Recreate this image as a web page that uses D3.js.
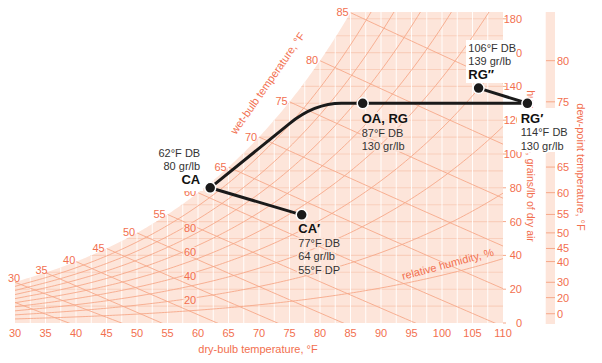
<!DOCTYPE html>
<html><head><meta charset="utf-8">
<script src="https://cdn.jsdelivr.net/npm/d3@7"></script>
<style>
body{margin:0;background:#fff}
svg{display:block}
text{font-family:"Liberation Sans",Arial,Helvetica,sans-serif}
</style>
</head><body>
<svg id="chart" width="602" height="363"></svg>
<script>
// ---------- data ----------
const dryBulbTicks = [30,35,40,45,50,55,60,65,70,75,80,85,90,95,100,105,110];
const humidityTicks = [0,20,40,60,80,100,120,140,160,180];
const dewPointTicks = [0,20,30,40,45,50,55,60,65,70,75,80];
const dewPointLabels = [0,20,30,40,45,50,55,60,65,75,80];
const wetBulbLines = [25,30,35,40,45,50,55,60,65,70,75,80,85];
const wetBulbLabels = [30,35,40,45,50,55,60,65,70,75,80,85];
const rhCurves = [10,20,30,40,50,60,70,80,90];
const rhLabels = [20,40,60,80];
const stateNames = ["CA","CA\u2032","OA, RG","RG\u2033","RG\u2032"];
const stateDryBulb = [62,77,87,106,114];
const stateGrains = [80,64,130,139,130];
const stateDetails = [
  ["62°F DB","80 gr/lb"],
  ["77°F DB","64 gr/lb","55°F DP"],
  ["87°F DB","130 gr/lb"],
  ["106°F DB","139 gr/lb"],
  ["114°F DB","130 gr/lb"]
];
// coil path CA -> bend -> OA -> RG' (dry-bulb °F, grains/lb)
const coilPathDB = [62,75,79.1,83.5,114];
const coilPathGr = [80,118,130,130,130];
const reheatLink = [3,4];   // RG'' -> RG'
const coolLink = [0,1];     // CA -> CA'

// ---------- psychrometrics ----------
const P = 1013.25;
function es(tF){const c=(tF-32)/1.8;return c>=0?6.112*Math.exp(17.62*c/(243.12+c)):6.112*Math.exp(22.46*c/(272.62+c));}
function wRH(tF,rh){const e=rh*es(tF);return 0.622*e/(P-e)*7000;}
function wSat(tF){return wRH(tF,1);}
function wWB(tF,twb){const ws=wSat(twb)/7000;let w;
  if(twb>=32) w=((1093-0.556*twb)*ws-0.240*(tF-twb))/(1093+0.444*tF-twb);
  else w=((1220-0.04*twb)*ws-0.240*(tF-twb))/(1220+0.444*tF-0.48*twb);
  return w*7000;}

// ---------- scales ----------
const x = d3.scaleLinear().domain([30,110]).range([15,503]);
const y = d3.scaleLinear().domain([0,180]).range([323,18.8]);
const W_TOP = 184;

const ORANGE = "#f26f4f", PINK = "#fde5da", HLINE = "#f9cfbc", DIAG = "#f6a889", DARK="#333";
const svg = d3.select("#chart");

// chart region polygon
const region = [];
for(let t=30;t<=90;t+=0.25){const w=wSat(t); if(w>W_TOP){break;} region.push([x(t),y(w)]);}
let tTop=84; for(let t=80;t<=90;t+=0.01){if(wSat(t)>=W_TOP){tTop=t;break;}}
region.push([x(tTop),y(W_TOP)],[x(110),y(W_TOP)],[x(110),y(0)],[x(30),y(0)]);

const defs = svg.append("defs");
defs.append("clipPath").attr("id","clip").append("path").attr("d","M"+region.join("L")+"Z");

svg.append("path").attr("d","M"+region.join("L")+"Z").attr("fill",PINK);

const g = svg.append("g").attr("clip-path","url(#clip)");
g.selectAll(".h").data(d3.range(10,190,10)).join("line")
  .attr("x1",x(30)).attr("x2",x(110)).attr("y1",d=>y(d)).attr("y2",d=>y(d))
  .attr("stroke",HLINE).attr("stroke-width",1.1);
g.selectAll(".v").data(d3.range(32.5,110,2.5)).join("line")
  .attr("x1",d=>x(d)).attr("x2",d=>x(d)).attr("y1",y(0)).attr("y2",y(W_TOP))
  .attr("stroke","#fff").attr("stroke-width",0.9);

const line = d3.line().x(d=>x(d[0])).y(d=>y(d[1]));
g.selectAll(".rh").data(rhCurves).join("path")
  .attr("d",rh=>line(d3.range(30,110.01,0.5).map(t=>[t,wRH(t,rh/100)])))
  .attr("fill","none").attr("stroke",DIAG).attr("stroke-width",0.9);
g.selectAll(".wb").data(wetBulbLines).join("path")
  .attr("d",wb=>{const pts=[];for(let t=Math.max(wb,30);t<=112;t+=1){const w=wWB(t,wb);pts.push([t,w]);if(w<-5)break;}return line(pts);})
  .attr("fill","none").attr("stroke",DIAG).attr("stroke-width",0.9);

svg.selectAll(".rhl").data(rhLabels).join("text")
  .attr("x",x(58.7)).attr("y",d=>y(wRH(57.5,d/100))+4)
  .attr("text-anchor","middle").attr("font-size",11).attr("fill",ORANGE)
  .attr("stroke",PINK).attr("stroke-width",3).attr("paint-order","stroke")
  .text(d=>d);

svg.selectAll(".xl").data(dryBulbTicks).join("text")
  .attr("x",d=>x(d)).attr("y",337).attr("text-anchor","middle")
  .attr("font-size",11).attr("fill",ORANGE).text(d=>d);
svg.append("text").attr("x",258).attr("y",353).attr("text-anchor","middle")
  .attr("font-size",11).attr("fill",ORANGE).text("dry-bulb temperature, °F");

svg.selectAll(".yt").data(humidityTicks).join("line")
  .attr("x1",x(110)).attr("x2",x(110)+3).attr("y1",d=>y(d)).attr("y2",d=>y(d))
  .attr("stroke",DIAG);
svg.selectAll(".yl").data(humidityTicks).join("text")
  .attr("x",522).attr("y",d=>y(d)+4).attr("text-anchor","end")
  .attr("font-size",11).attr("fill",ORANGE).text(d=>d);
svg.append("text").attr("transform","translate(527,166) rotate(90)").attr("text-anchor","middle")
  .attr("font-size",10.5).attr("fill",ORANGE).text("humidity ratio, grains/lb of dry air");

svg.append("rect").attr("x",545.7).attr("y",y(W_TOP)).attr("width",9.3).attr("height",y(0)-y(W_TOP)+1).attr("fill",PINK);
svg.selectAll(".dt").data(dewPointTicks).join("line")
  .attr("x1",546).attr("x2",555).attr("y1",d=>y(wSat(d))).attr("y2",d=>y(wSat(d)))
  .attr("stroke",DIAG);
svg.selectAll(".dl").data(dewPointLabels).join("text")
  .attr("x",557).attr("y",d=>y(wSat(d))+4)
  .attr("font-size",11).attr("fill",ORANGE).text(d=>d);
svg.append("text").attr("transform","translate(577,167) rotate(90)").attr("text-anchor","middle")
  .attr("font-size",11).attr("fill",ORANGE).text("dew-point temperature, °F");

svg.selectAll(".wbl").data(wetBulbLabels).join("text")
  .attr("x",d=>{const f=Math.max(0,(42-d)/12);return x(d)-8+7*f;})
  .attr("y",d=>{const f=Math.max(0,(42-d)/12);return y(wSat(d))-0.5-4*f+4;})
  .attr("text-anchor","middle").attr("font-size",11).attr("fill",ORANGE).text(d=>d);
svg.append("text").attr("transform","translate(236,135) rotate(-55)")
  .attr("font-size",11).attr("fill",ORANGE).text("wet-bulb temperature, °F");
svg.append("text").attr("transform","translate(403,280) rotate(-15)")
  .attr("font-size",11).attr("fill",ORANGE).text("relative humidity, %");

// white label boxes
svg.append("rect").attr("x",158).attr("y",143).attr("width",45).attr("height",48).attr("fill","#fff");
svg.append("rect").attr("x",466).attr("y",40).attr("width",50).attr("height",43).attr("fill","#fff");
svg.append("rect").attr("x",517).attr("y",108).attr("width",54).attr("height",44).attr("fill","#fff");

const pth = d3.path();
pth.moveTo(x(coilPathDB[0]),y(coilPathGr[0]));
pth.lineTo(x(coilPathDB[1]),y(coilPathGr[1]));
pth.quadraticCurveTo(x(coilPathDB[2]),y(coilPathGr[2]),x(coilPathDB[3]),y(coilPathGr[3]));
pth.lineTo(x(coilPathDB[4]),y(coilPathGr[4]));
svg.append("path").attr("d",pth.toString()).attr("fill","none").attr("stroke","#1a1a1a")
  .attr("stroke-width",3).attr("stroke-linejoin","round");
[coolLink,reheatLink].forEach(([a,b])=>{
  svg.append("line").attr("x1",x(stateDryBulb[a])).attr("y1",y(stateGrains[a]))
    .attr("x2",x(stateDryBulb[b])).attr("y2",y(stateGrains[b]))
    .attr("stroke","#1a1a1a").attr("stroke-width",3);
});
svg.selectAll(".pt").data(stateNames).join("circle")
  .attr("cx",(d,i)=>x(stateDryBulb[i])).attr("cy",(d,i)=>y(stateGrains[i])).attr("r",5.5)
  .attr("fill","#1a1a1a").attr("stroke","#fff").attr("stroke-width",1.5);

const layout = [
  {dx:-10, dy:-3.8, anchor:"end", above:true, halo:"#fff"},
  {dx:-3.4, dy:18.2, anchor:"start", above:false, halo:PINK},
  {dx:-1, dy:19.7, anchor:"start", above:false, halo:PINK},
  {dx:-10.3, dy:-9, anchor:"start", above:true, halo:"#fff"},
  {dx:-6.7, dy:19.2, anchor:"start", above:false, halo:"#fff"}
];
stateNames.forEach((name,i)=>{
  const L = layout[i];
  const px = x(stateDryBulb[i])+L.dx, py = y(stateGrains[i])+L.dy;
  svg.append("text").attr("x",px).attr("y",py).attr("text-anchor",L.anchor)
    .attr("font-size",13).attr("font-weight","bold").attr("fill","#111")
    .attr("stroke",L.halo).attr("stroke-width",3).attr("paint-order","stroke").text(name);
  const det = stateDetails[i];
  det.forEach((s,j)=>{
    const yy = L.above ? py - 13.7*(det.length-j) : py + 13.7*(j+1);
    svg.append("text").attr("x",px).attr("y",yy).attr("text-anchor",L.anchor)
      .attr("font-size",11).attr("fill",DARK)
      .attr("stroke",L.halo).attr("stroke-width",3).attr("paint-order","stroke").text(s);
  });
});
</script>
</body></html>
